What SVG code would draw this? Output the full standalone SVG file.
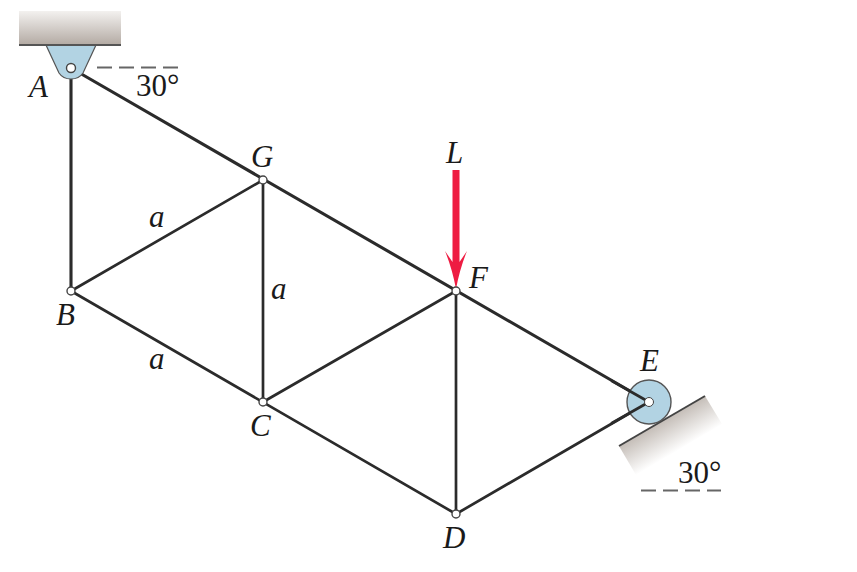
<svg xmlns="http://www.w3.org/2000/svg" width="857" height="572" viewBox="0 0 857 572">
<style>
.t{font-family:"Liberation Serif","Times New Roman",serif;fill:#1a1a1a;font-size:31px}
.i{font-style:italic}
.m{stroke:#2b2b2b;stroke-width:3.100;fill:none;stroke-linecap:round}
.l{stroke:#2b2b2b;stroke-width:2.700;fill:none;stroke-linecap:round}
.d{stroke:#666;stroke-width:2;stroke-dasharray:15 7;fill:none}
.p{fill:#fff;stroke:#444;stroke-width:1.4}
</style>
<defs>
<linearGradient id="g1" x1="0" y1="0" x2="0" y2="1"><stop offset="0" stop-color="#f3f1ef"/><stop offset="1" stop-color="#b3aaa3"/></linearGradient>
<linearGradient id="g2" gradientUnits="userSpaceOnUse" x1="662" y1="421" x2="679" y2="450"><stop offset="0" stop-color="#c4bdb7"/><stop offset="1" stop-color="#ffffff"/></linearGradient>
</defs>
<g id="connectors">
<path class="m" d="M71 68V291M71 68L649 402"/>
<path class="l" d="M71 291L263 180M71 291L456 514M263 180V402M263 402L456 291M456 291V514M456 514L649 402"/>
</g>
<g id="supportA">
<rect x="19" y="11" width="102" height="34" fill="url(#g1)"/>
<path d="M46 45H96L83 73Q79 79 71 79Q63 79 59 73Z" fill="#b2d3e3" stroke="#555" stroke-width="1.2"/>
<path d="M19 45H121" stroke="#555" stroke-width="2"/>
<path d="M97 67.500H179" class="d"/>
</g>
<g id="supportE">
<path d="M619 446L705 396L722 424L636 475Z" fill="url(#g2)"/>
<path d="M619 446L705 396" stroke="#444" stroke-width="2"/>
<path d="M641 490.500H721" class="d"/>
<circle cx="649" cy="402" r="22" fill="#b2d3e3" stroke="#555" stroke-width="1.400"/>
<path class="l" d="M612 381L649 402M612 423L649 402"/>
</g>
<g id="load">
<path d="M452.500 170H459.500V262L467 251Q460 268 456 289Q452 268 445 251L452.500 262Z" fill="#ee1c42"/>
</g>
<g id="node-A"><circle class="p" cx="71" cy="68" r="4.500"/></g>
<g id="node-B"><circle class="p" cx="71" cy="291" r="4"/></g>
<g id="node-G"><circle class="p" cx="263" cy="180" r="4"/></g>
<g id="node-C"><circle class="p" cx="263" cy="402" r="4"/></g>
<g id="node-F"><circle class="p" cx="456" cy="291" r="4"/></g>
<g id="node-D"><circle class="p" cx="456" cy="514" r="4"/></g>
<g id="node-E"><circle cx="649" cy="402" r="4.500" fill="#fff" stroke="#444" stroke-width="1"/></g>
<g id="labels">
<text class="t i" x="29" y="97">A</text>
<text class="t" x="136" y="96">30°</text>
<text class="t i" x="251" y="167">G</text>
<text class="t i" x="446" y="163">L</text>
<text class="t i" x="469" y="288">F</text>
<text class="t i" x="149" y="227">a</text>
<text class="t i" x="271" y="299">a</text>
<text class="t i" x="149" y="369">a</text>
<text class="t i" x="56" y="325">B</text>
<text class="t i" x="250" y="436">C</text>
<text class="t i" x="640" y="371">E</text>
<text class="t" x="678" y="483">30°</text>
<text class="t i" x="443" y="548">D</text>
</g>
</svg>
